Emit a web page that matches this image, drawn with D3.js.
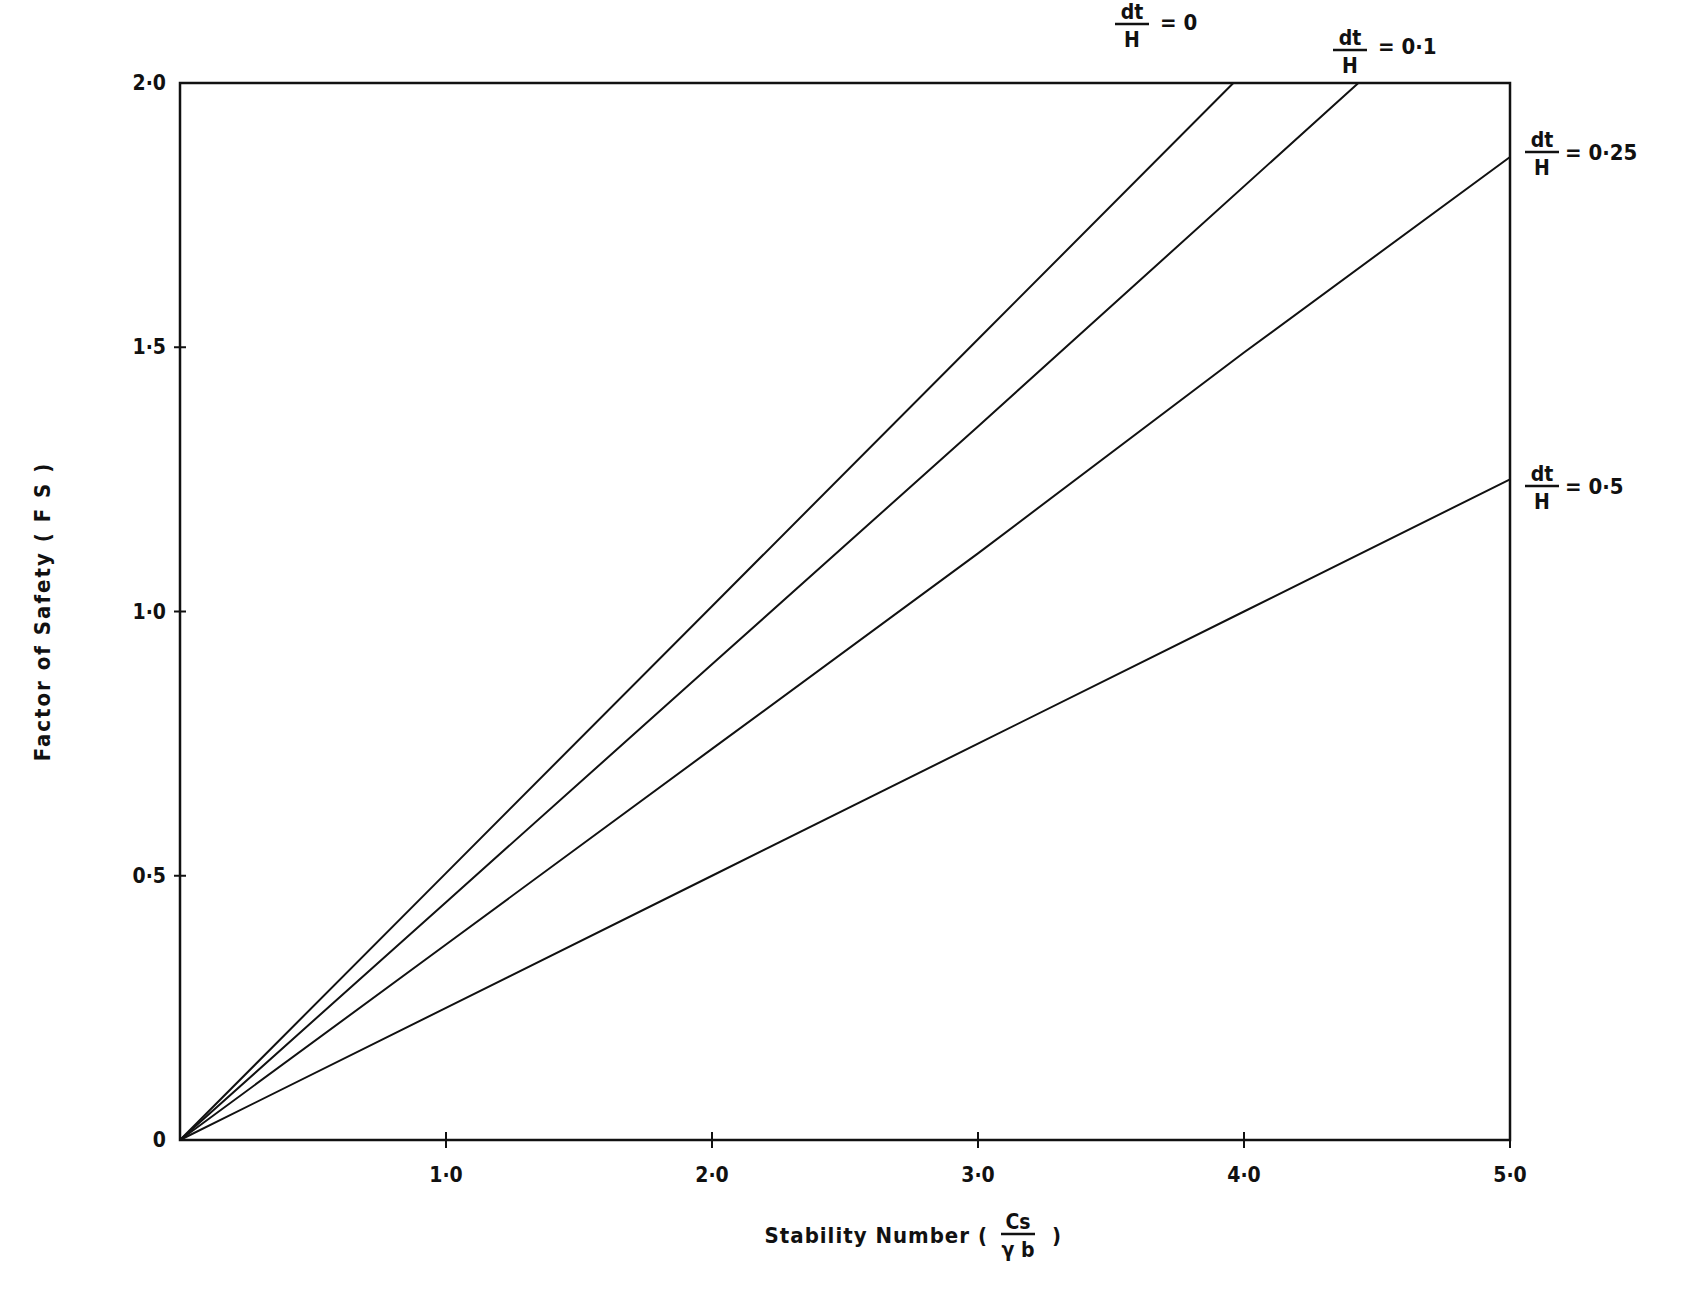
<!DOCTYPE html><html><head><meta charset="utf-8"><script src="https://cdn.jsdelivr.net/npm/d3@7"></script>
<style>body{margin:0;background:#fff}text{font-family:"DejaVu Sans Condensed","DejaVu Sans",sans-serif;font-weight:bold;fill:#111}</style></head><body>
<svg id="c" width="1682" height="1292"></svg>
<script>
const xTicks=[1,2,3,4,5];
const xTickLabels=["1·0","2·0","3·0","4·0","5·0"];
const yTicks=[0,0.5,1,1.5,2];
const yTickLabels=["0","0·5","1·0","1·5","2·0"];
const seriesNames=["0","0·1","0·25","0·5"];
const s0=[[0,0],[1,0.505],[2,1.01],[3,1.515],[3.96,2.0]];
const s1=[[0,0],[1,0.45],[2,0.9],[3,1.35],[4.43,2.0]];
const s2=[[0,0],[1,0.37],[2,0.74],[3,1.11],[4,1.49],[5,1.86]];
const s3=[[0,0],[1,0.25],[2,0.5],[3,0.75],[4,1.0],[5,1.25]];
const svg=d3.select("#c");
const x=d3.scaleLinear().domain([0,5]).range([180,1510]);
const y=d3.scaleLinear().domain([0,2]).range([1140,83]);
const g=svg.append("g");
g.append("rect").attr("x",x(0)).attr("y",y(2)).attr("width",x(5)-x(0)).attr("height",y(0)-y(2)).attr("fill","none").attr("stroke","#111").attr("stroke-width",2.5);
xTicks.forEach((t,i)=>{g.append("line").attr("x1",x(t)).attr("x2",x(t)).attr("y1",y(0)-8).attr("y2",y(0)+8).attr("stroke","#111").attr("stroke-width",2);
 g.append("text").attr("x",x(t)).attr("y",y(0)+42).attr("text-anchor","middle").attr("font-size",21).text(xTickLabels[i]);});
yTicks.forEach((t,i)=>{if(t>0&&t<2)g.append("line").attr("x1",x(0)-6).attr("x2",x(0)+6).attr("y1",y(t)).attr("y2",y(t)).attr("stroke","#111").attr("stroke-width",2);
 g.append("text").attr("x",x(0)-14).attr("y",y(t)+7).attr("text-anchor","end").attr("font-size",21).text(yTickLabels[i]);});
const line=d3.line().x(d=>x(d[0])).y(d=>y(d[1]));
[s0,s1,s2,s3].forEach(s=>g.append("path").attr("d",line(s)).attr("fill","none").attr("stroke","#111").attr("stroke-width",2));
function frac(cx,bar,num,den,after,ax,ay){
 g.append("text").attr("x",cx).attr("y",bar-5).attr("text-anchor","middle").attr("font-size",21).text(num);
 g.append("line").attr("x1",cx-17).attr("x2",cx+17).attr("y1",bar).attr("y2",bar).attr("stroke","#111").attr("stroke-width",2.5);
 g.append("text").attr("x",cx).attr("y",bar+23).attr("text-anchor","middle").attr("font-size",21).text(den);
 if(after)g.append("text").attr("x",ax).attr("y",ay).attr("font-size",22).text(after);
}
frac(1132,24,"dt","H","= "+seriesNames[0],1160,30);
frac(1350,50,"dt","H","= "+seriesNames[1],1378,54);
frac(1542,152,"dt","H","= "+seriesNames[2],1565,160);
frac(1542,486,"dt","H","= "+seriesNames[3],1565,494);
g.append("text").attr("transform","translate(50,"+((y(0)+y(2))/2)+") rotate(-90)").attr("text-anchor","middle").attr("font-size",22).attr("letter-spacing",2).text("Factor of Safety  ( F S )");
g.append("text").attr("x",988).attr("y",1243).attr("text-anchor","end").attr("font-size",22).attr("letter-spacing",1).text("Stability   Number  (");
frac(1018,1234,"Cs","γ b","",0,0);
g.append("text").attr("x",1052).attr("y",1243).attr("font-size",22).text(")");
</script></body></html>
